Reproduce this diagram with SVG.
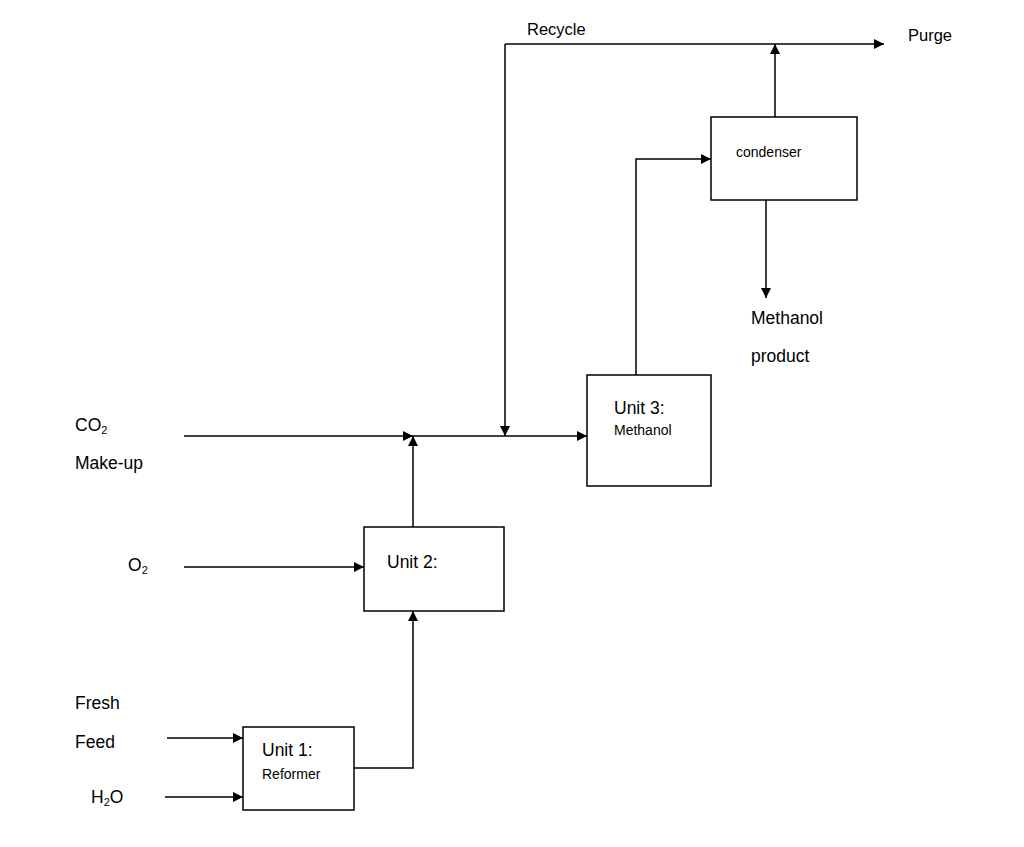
<svg xmlns="http://www.w3.org/2000/svg" width="1024" height="847" viewBox="0 0 1024 847">
<style>
.box{fill:#fff;stroke:#000;stroke-width:1.5}
.ln{fill:none;stroke:#000;stroke-width:1.5}
.t{font-family:"Liberation Sans",Arial,sans-serif;font-size:17.5px;fill:#000}
.h{font-family:"Liberation Sans",Arial,sans-serif;font-size:16.5px;fill:#000}
.s{font-family:"Liberation Sans",Arial,sans-serif;font-size:14px;fill:#000}
.sub{font-size:11px}
</style>
<defs>
<marker id="a" viewBox="0 0 10 10" refX="10" refY="5" markerWidth="10" markerHeight="10" markerUnits="userSpaceOnUse" orient="auto">
<path d="M0,0 L10,5 L0,10 z" fill="#000"/>
</marker>
</defs>
<rect width="1024" height="847" fill="#fff"/>
<g id="connectors">
<path class="ln" d="M505,44 H884" marker-end="url(#a)"/>
<path class="ln" d="M505,44 V436" marker-end="url(#a)"/>
<path class="ln" d="M775,117 V44" marker-end="url(#a)"/>
<path class="ln" d="M636,375 V159 H711" marker-end="url(#a)"/>
<path class="ln" d="M766,200 V298" marker-end="url(#a)"/>
<path class="ln" d="M184,436 H413" marker-end="url(#a)"/>
<path class="ln" d="M413,436 H587" marker-end="url(#a)"/>
<path class="ln" d="M413,527 V436" marker-end="url(#a)"/>
<path class="ln" d="M184,567 H364" marker-end="url(#a)"/>
<path class="ln" d="M354,768 H413 V611" marker-end="url(#a)"/>
<path class="ln" d="M167,738 H243" marker-end="url(#a)"/>
<path class="ln" d="M165,797 H243" marker-end="url(#a)"/>
</g>
<g id="condenser">
<rect class="box" x="711" y="117" width="146" height="83"/>
<text class="s" x="736" y="157">condenser</text>
</g>
<g id="unit3">
<rect class="box" x="587" y="375" width="124" height="111"/>
<text class="t" x="614" y="414">Unit 3:</text>
<text class="s" x="614" y="435">Methanol</text>
</g>
<g id="unit2">
<rect class="box" x="364" y="527" width="140" height="84"/>
<text class="t" x="387" y="568">Unit 2:</text>
</g>
<g id="unit1">
<rect class="box" x="243" y="727" width="111" height="83"/>
<text class="t" x="262" y="756">Unit 1:</text>
<text class="s" x="262" y="779">Reformer</text>
</g>
<g id="labels">
<text class="h" x="527" y="35">Recycle</text>
<text class="h" x="908" y="41">Purge</text>
<text class="t" x="751" y="324">Methanol</text>
<text class="t" x="751" y="362">product</text>
<text class="t" x="75" y="431">CO<tspan class="sub" dy="3">2</tspan></text>
<text class="t" x="75" y="469">Make-up</text>
<text class="t" x="128" y="571">O<tspan class="sub" dy="3">2</tspan></text>
<text class="t" x="75" y="709">Fresh</text>
<text class="t" x="75" y="748">Feed</text>
<text class="t" x="91" y="803">H<tspan class="sub" dy="3">2</tspan><tspan dy="-3">O</tspan></text>
</g>
</svg>
